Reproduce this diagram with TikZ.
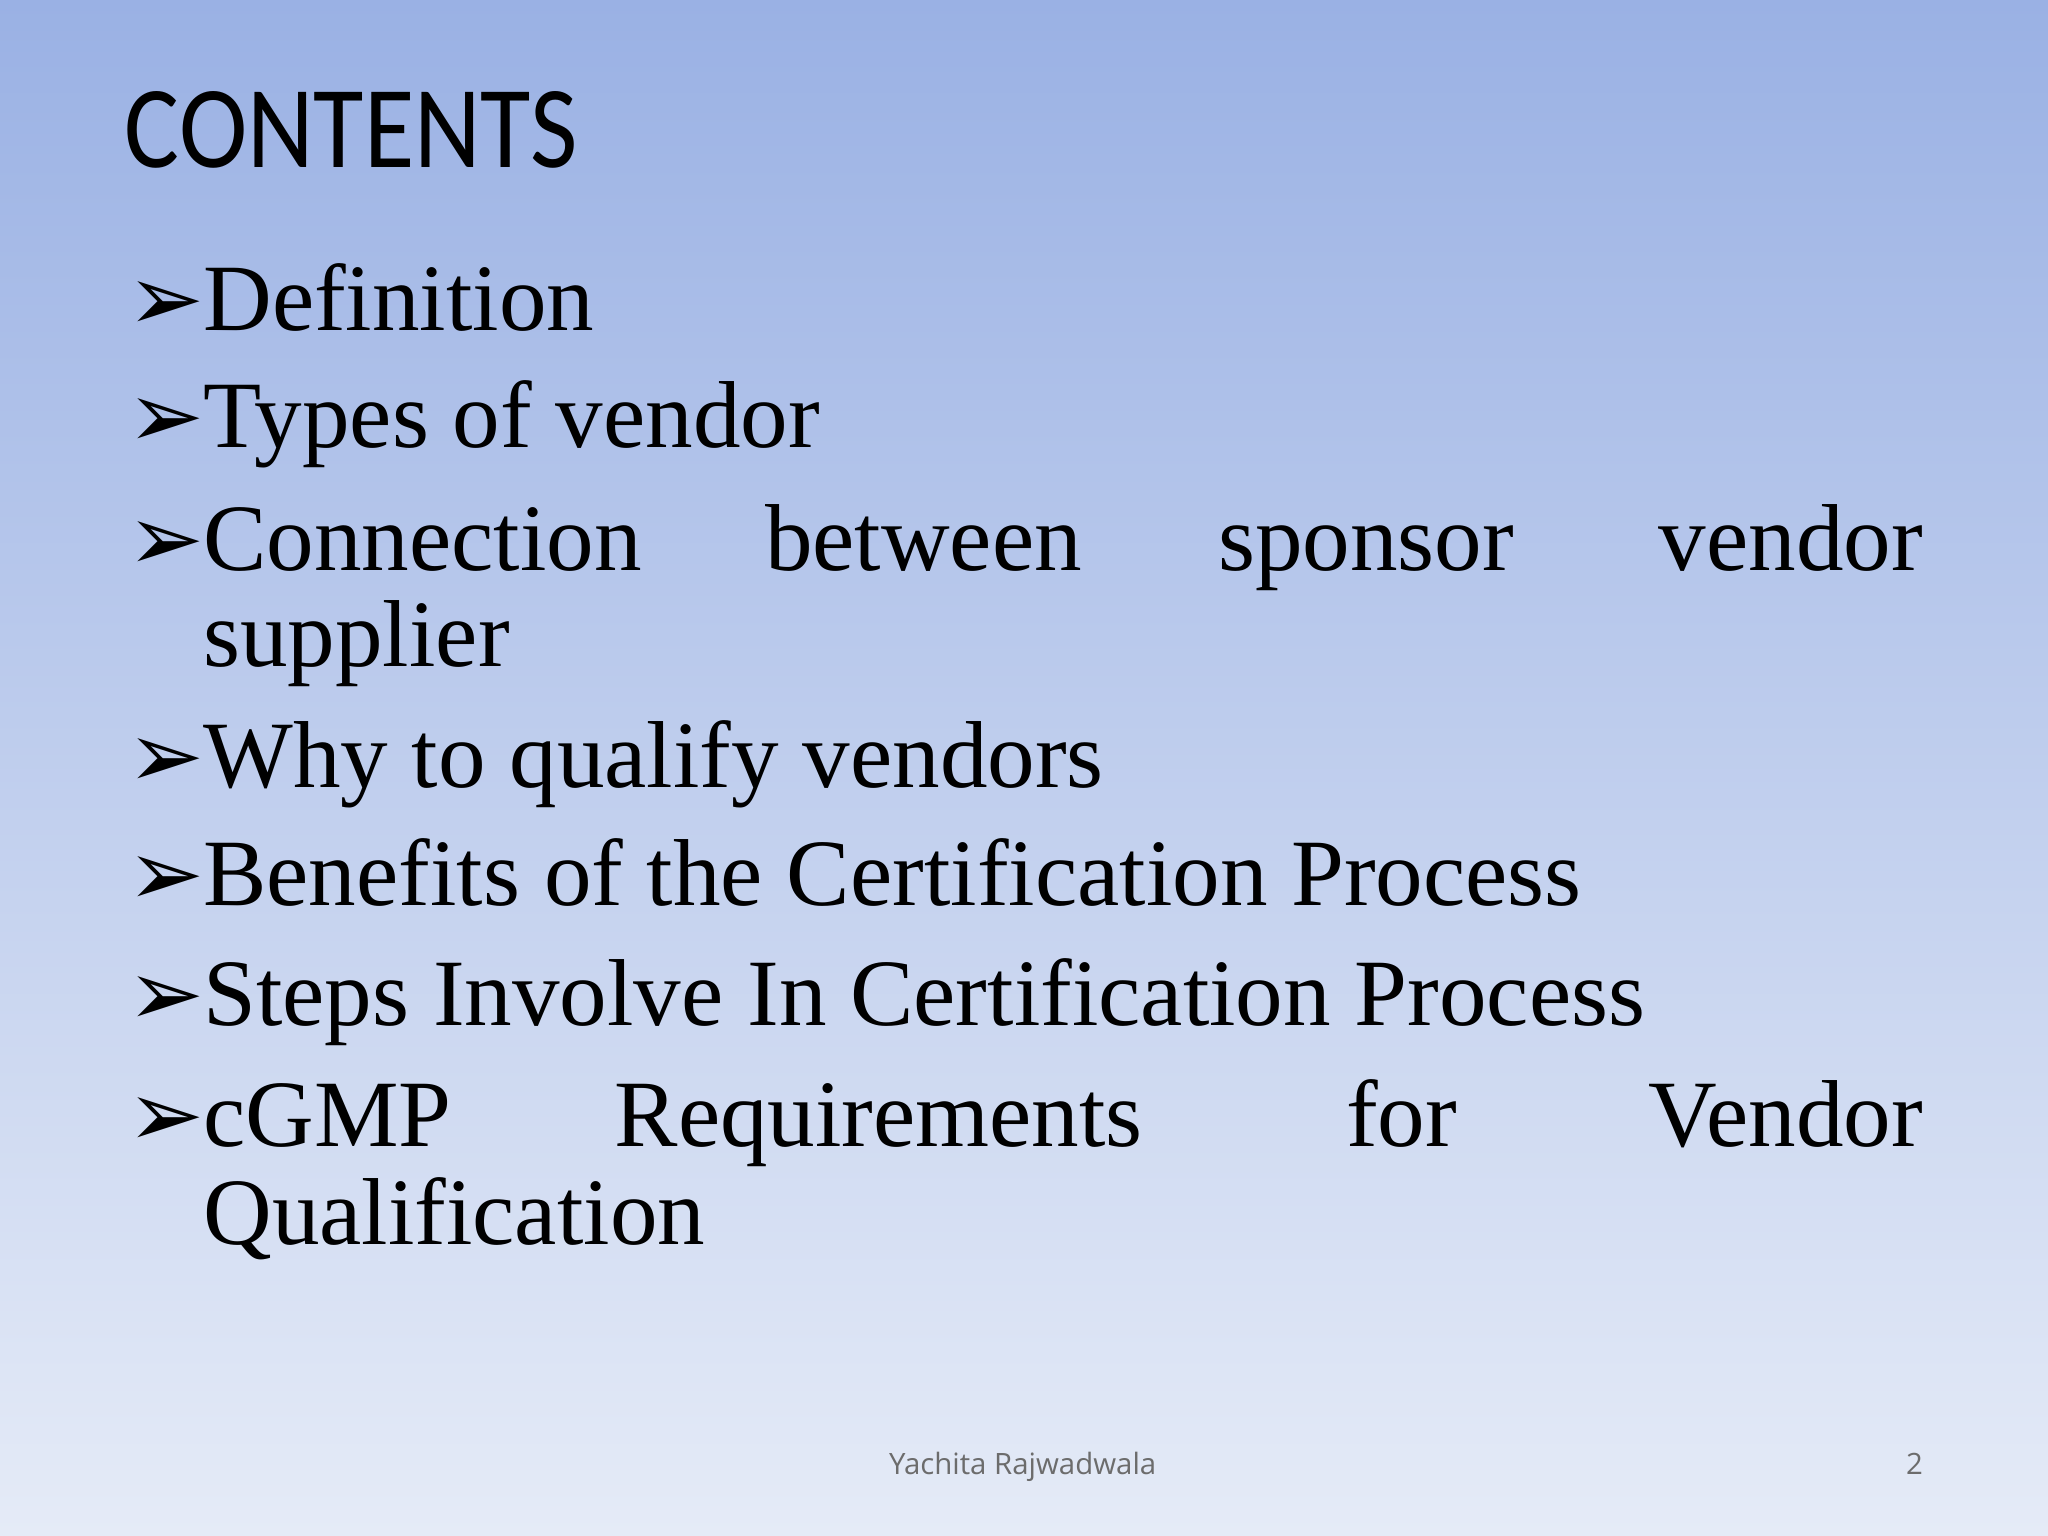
\documentclass[tikz,border=0pt]{standalone}
\usepackage{fontspec}
\setmainfont{Liberation Serif}
\newfontfamily\titlefont{Carlito}
\newfontfamily\symfont{DejaVu Sans}
\newfontfamily\footfont{Open Sans}
\begin{document}
\begin{tikzpicture}[x=0.01cm,y=-0.01cm,
  body/.style={inner sep=0pt,anchor=base west,font=\fontsize{20.7pt}{24pt}\selectfont},
  bodyE/.style={body,anchor=base east},
  bul/.style={inner sep=0pt,anchor=base west,font=\symfont\fontsize{20pt}{22pt}\selectfont}]
\shade[top color={rgb,255:red,154;green,177;blue,228},bottom color={rgb,255:red,229;green,235;blue,247}] (0,0) rectangle (1568,1176);
\useasboundingbox (0,0) rectangle (1568,1176);
\node[inner sep=0pt,anchor=base west,xscale=0.88,font=\titlefont\fontsize{25.5pt}{28pt}\selectfont] (title) at (95,128) {CONTENTS};
\foreach \y/\n in {253/b1,343/b2,437/b3,603/b4,693/b5,785/b6,878/b7}{
  \node[bul] (\n) at (97,\y) {➢};}
\node[body] (t1) at (155,253) {Definition};
\node[body] (t2) at (155,343) {Types of vendor};
\node[body] (t3a) at (155,437) {Connection};
\node[body] (t3b) at (585,437) {between};
\node[body] (t3c) at (932,437) {sponsor};
\node[bodyE] (t3d) at (1473,437) {vendor};
\node[body] (t3e) at (155,510) {supplier};
\node[body] (t4) at (155,603) {Why to qualify vendors};
\node[body] (t5) at (155,693) {Benefits of the Certification Process};
\node[body] (t6) at (155,785) {Steps Involve In Certification Process};
\node[body] (t7a) at (155,878) {cGMP};
\node[body] (t7b) at (470,878) {Requirements};
\node[body] (t7c) at (1030,878) {for};
\node[bodyE] (t7d) at (1473,878) {Vendor};
\node[body] (t7e) at (155,953) {Qualification};
\node[inner sep=0pt,anchor=base,text=gray!85!black,font=\footfont\fontsize{6.4pt}{7pt}\selectfont] (ft) at (783,1129) {Yachita Rajwadwala};
\node[inner sep=0pt,anchor=base east,text=gray!85!black,font=\footfont\fontsize{6.4pt}{7pt}\selectfont] (pg) at (1473,1129) {2};
\end{tikzpicture}
\end{document}
